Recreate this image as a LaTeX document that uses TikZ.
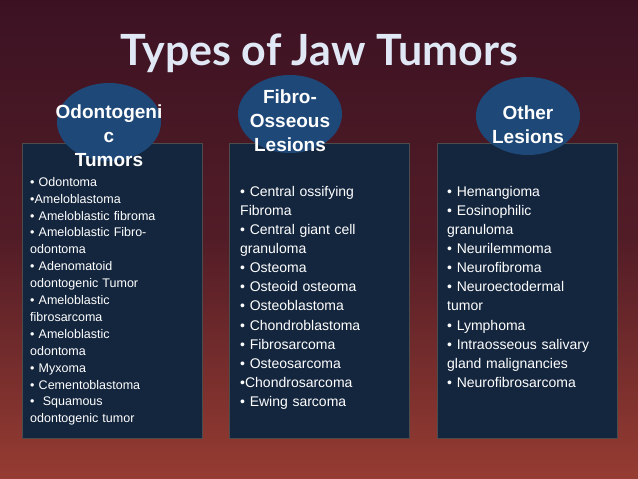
\documentclass[tikz,border=0pt]{standalone}
\usepackage{fontspec}
\setmainfont{Liberation Sans}
\newfontfamily\titlefont{Lato}
\usetikzlibrary{shapes.geometric}
\definecolor{ellc}{RGB}{30,72,120}
\definecolor{boxc}{RGB}{20,38,62}
\definecolor{bgA}{RGB}{60,18,35}
\definecolor{bgB}{RGB}{150,60,50}
\definecolor{titc}{RGB}{225,232,245}
\tikzset{x=1pt,y=-1pt,
 panel/.style={draw=black!70,fill=boxc,line width=0.8pt},
 head/.style={ellipse,fill=ellc,minimum width=104pt,minimum height=78pt,inner sep=0pt},
 headtxt/.style={text=white,font=\fontsize{19}{24}\selectfont\bfseries,align=center},
 list/.style={text=white,font=\fontsize{12.5}{16.9}\selectfont,align=left,anchor=north west,text width=172pt,inner sep=0pt}}
\begin{document}
\begin{tikzpicture}
\useasboundingbox (0,0) rectangle (638,479);
\shade[top color=bgA,bottom color=bgB,middle color=bgA!75!bgB] (0,0) rectangle (638,479);
\node[text=titc,font=\titlefont\fontsize{43}{46}\selectfont\bfseries] (title) at (319,53) {Types of Jaw Tumors};
\node[panel,minimum width=180pt,minimum height=295pt,anchor=north west] (p1) at (22,143) {};
\node[panel,minimum width=180pt,minimum height=295pt,anchor=north west] (p2) at (229,143) {};
\node[panel,minimum width=180pt,minimum height=295pt,anchor=north west] (p3) at (437,143) {};
\node[head] (e1) at (109,122) {};
\node[head] (e2) at (290,114) {};
\node[head] (e3) at (528,116) {};
\node[headtxt] (h1) at (109,136) {Odontogeni\\c\\Tumors};
\node[headtxt] (h2) at (290,121) {Fibro-\\Osseous\\Lesions};
\node[headtxt] (h3) at (528,125) {Other\\Lesions};
\node[list] (l1) at (30,177) {• Odontoma\\•Ameloblastoma\\• Ameloblastic fibroma\\• Ameloblastic Fibro-\\odontoma\\• Adenomatoid\\odontogenic Tumor\\• Ameloblastic\\fibrosarcoma\\• Ameloblastic\\odontoma\\• Myxoma\\• Cementoblastoma\\•\ \ Squamous\\odontogenic tumor};
\node[list,font=\fontsize{14}{19.1}\selectfont] (l2) at (240,186) {• Central ossifying\\Fibroma\\• Central giant cell\\granuloma\\• Osteoma\\• Osteoid osteoma\\• Osteoblastoma\\• Chondroblastoma\\• Fibrosarcoma\\• Osteosarcoma\\•Chondrosarcoma\\• Ewing sarcoma};
\node[list,font=\fontsize{14}{19.1}\selectfont] (l3) at (447,186) {• Hemangioma\\• Eosinophilic\\granuloma\\• Neurilemmoma\\• Neurofibroma\\• Neuroectodermal\\tumor\\• Lymphoma\\• Intraosseous salivary\\gland malignancies\\• Neurofibrosarcoma};
\end{tikzpicture}
\end{document}
